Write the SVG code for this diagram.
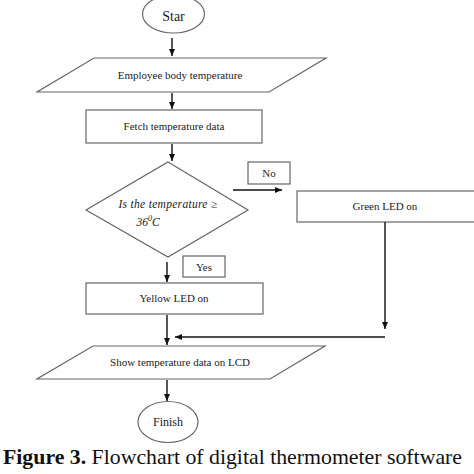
<svg xmlns="http://www.w3.org/2000/svg" width="474" height="474" viewBox="0 0 474 474">
<defs>
<marker id="ah" markerWidth="8" markerHeight="8" refX="7" refY="4" orient="auto" markerUnits="userSpaceOnUse">
<path d="M0,1 L7,4 L0,7 Z" fill="#111"/>
</marker>
<style>
.s{fill:#fff;stroke:#666;stroke-width:1.2}
.t{font-family:"Liberation Serif",serif;font-size:11px;fill:#222;text-anchor:middle}
.c{stroke:#111;stroke-width:1.4;fill:none;marker-end:url(#ah)}
</style>
</defs>
<rect width="474" height="474" fill="#fff"/>
<g id="star"><ellipse class="s" cx="173.5" cy="14" rx="31" ry="19"/><text class="t" x="173.5" y="21" style="font-size:14px">Star</text></g>
<g id="input"><polygon class="s" points="94,58 326,58 269,92 37,92"/><text class="t" x="180" y="79">Employee body temperature</text></g>
<g id="fetch"><rect class="s" x="86" y="110" width="176" height="33"/><text class="t" x="174" y="130">Fetch temperature data</text></g>
<g id="decision"><polygon class="s" points="168,162 248,210 168,257 86,210"/><text class="t" x="168" y="208" style="font-style:italic;font-size:11.5px;letter-spacing:0.3px">Is the temperature  ≥</text><text class="t" x="148" y="226" style="font-style:italic;font-size:11.5px">36<tspan dy="-5" font-size="8">0</tspan><tspan dy="5">C</tspan></text></g>
<g id="no-label"><rect class="s" x="248" y="162" width="42" height="22"/><text class="t" x="269" y="177">No</text></g>
<g id="green"><rect class="s" x="297" y="191" width="190" height="31"/><text class="t" x="385" y="210">Green LED on</text></g>
<g id="yes-label"><rect class="s" x="183" y="256" width="42" height="21"/><text class="t" x="204" y="271">Yes</text></g>
<g id="yellow"><rect class="s" x="86" y="283" width="177" height="31"/><text class="t" x="174" y="302">Yellow LED on</text></g>
<g id="show"><polygon class="s" points="93,346 325,346 270,379 37,379"/><text class="t" x="180" y="366">Show temperature data on LCD</text></g>
<g id="finish"><ellipse class="s" cx="168" cy="422" rx="30" ry="20.5"/><text class="t" x="168" y="426" style="font-size:12px">Finish</text></g>
<g id="connectors">
<line class="c" x1="172" y1="38" x2="172" y2="56"/>
<line class="c" x1="172" y1="93" x2="172" y2="109"/>
<line class="c" x1="172" y1="144" x2="172" y2="161"/>
<line class="c" x1="233" y1="190" x2="282" y2="190"/>
<line class="c" x1="167" y1="262" x2="167" y2="282"/>
<line class="c" x1="167" y1="315" x2="167" y2="345"/>
<line class="c" x1="385" y1="222" x2="385" y2="329"/>
<line class="c" x1="385" y1="337" x2="175" y2="337"/>
<line class="c" x1="167" y1="380" x2="167" y2="401"/>
</g>
<text x="3" y="464" textLength="459" lengthAdjust="spacingAndGlyphs" style="font-family:'Liberation Serif',serif;font-size:21.5px;fill:#111"><tspan font-weight="bold">Figure 3.</tspan> Flowchart of digital thermometer software</text>
</svg>
